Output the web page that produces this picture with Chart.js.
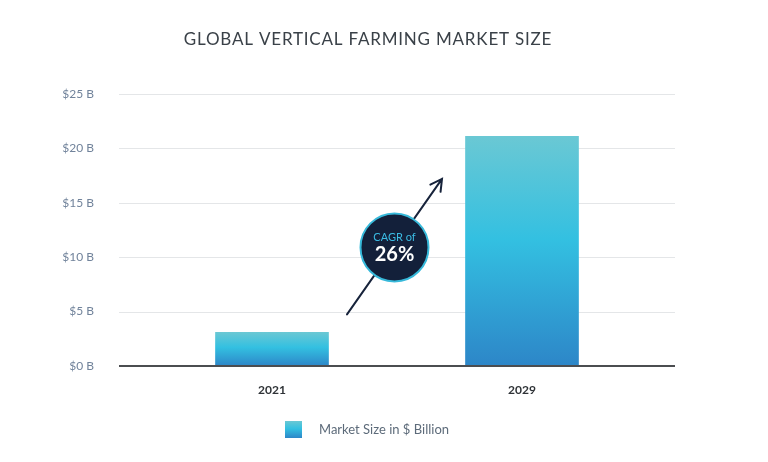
<!DOCTYPE html>
<html>
<head>
<meta charset="utf-8">
<script src="https://cdn.jsdelivr.net/npm/chart.js@4"></script>
<style>
html, body { margin: 0; padding: 0; background: #fff; }
#wrap { width: 768px; height: 462px; }
</style>
</head>
<body>
<div id="wrap"><canvas id="chart"></canvas></div>
<script>
const chartTitle = 'GLOBAL VERTICAL FARMING MARKET SIZE';
const years = ['2021', '2029'];
const marketSize = [3.1, 21.1];
const yTicks = [0, 5, 10, 15, 20, 25];
const seriesName = 'Market Size in $ Billion';
const cagrLabel = 'CAGR of';
const cagrValue = '26%';

function barGradient(ctx, top, bottom) {
    const g = ctx.createLinearGradient(0, top, 0, bottom);
    g.addColorStop(0, '#6ac8d4');
    g.addColorStop(0.45, '#33c0e1');
    g.addColorStop(1, '#2d86c8');
    return g;
}

// spaced-out title, centred a bit left of the canvas middle
const spacedTitle = {
    id: 'spacedTitle',
    afterDraw(chart) {
        const { ctx, width } = chart;
        ctx.save();
        ctx.font = '17px Lato';
        ctx.letterSpacing = '0.8px';
        ctx.fillStyle = '#3a4148';
        ctx.textAlign = 'center';
        ctx.textBaseline = 'alphabetic';
        ctx.fillText(chartTitle, width / 2 - 16, 45);
        ctx.restore();
    }
};

// grid lines run wider than the bars' area, so draw them ourselves
const wideGrid = {
    id: 'wideGrid',
    beforeDatasetsDraw(chart) {
        const { ctx, chartArea, scales: { y } } = chart;
        const left = chartArea.left - 28;
        const right = chartArea.right + 28;
        ctx.save();
        ctx.strokeStyle = '#e4e6e8';
        ctx.lineWidth = 1;
        yTicks.forEach(v => {
            if (v === 0) return;
            const py = Math.round(y.getPixelForValue(v)) + 0.5;
            ctx.beginPath();
            ctx.moveTo(left, py);
            ctx.lineTo(right, py);
            ctx.stroke();
        });
        ctx.restore();
    },
    afterDatasetsDraw(chart) {
        const { ctx, chartArea, scales: { y } } = chart;
        const py = Math.round(y.getPixelForValue(0));
        ctx.save();
        ctx.strokeStyle = '#4b4d50';
        ctx.lineWidth = 2;
        ctx.beginPath();
        ctx.moveTo(chartArea.left - 28, py);
        ctx.lineTo(chartArea.right + 28, py);
        ctx.stroke();
        ctx.restore();
    }
};

// CAGR arrow + badge
const cagrBadge = {
    id: 'cagrBadge',
    afterDatasetsDraw(chart) {
        const { ctx, scales: { x, y } } = chart;
        const x0 = x.getPixelForValue(0.3), y0 = y.getPixelForValue(4.75);
        const x1 = x.getPixelForValue(0.68), y1 = y.getPixelForValue(17.2);
        ctx.save();
        ctx.strokeStyle = '#17233b';
        ctx.lineWidth = 2;
        ctx.lineCap = 'round';
        ctx.beginPath();
        ctx.moveTo(x0, y0);
        ctx.lineTo(x1, y1);
        const ang = Math.atan2(y1 - y0, x1 - x0);
        const head = 13;
        ctx.moveTo(x1 - head * Math.cos(ang - 0.5), y1 - head * Math.sin(ang - 0.5));
        ctx.lineTo(x1, y1);
        ctx.lineTo(x1 - head * Math.cos(ang + 0.5), y1 - head * Math.sin(ang + 0.5));
        ctx.stroke();

        const cx = x.getPixelForValue(0.49), cy = y.getPixelForValue(10.9);
        ctx.beginPath();
        ctx.arc(cx, cy, 34, 0, Math.PI * 2);
        ctx.fillStyle = '#13203a';
        ctx.fill();
        ctx.strokeStyle = '#37b9da';
        ctx.lineWidth = 2;
        ctx.stroke();

        ctx.textAlign = 'center';
        ctx.textBaseline = 'middle';
        ctx.fillStyle = '#3bbbe3';
        ctx.font = '11px Lato';
        ctx.fillText(cagrLabel, cx, cy - 10);
        ctx.fillStyle = '#ffffff';
        ctx.font = 'bold 20px Lato';
        ctx.fillText(cagrValue, cx, cy + 7);
        ctx.restore();
    }
};

const bottomLegend = {
    id: 'bottomLegend',
    afterDraw(chart) {
        const { ctx, chartArea } = chart;
        const bx = chartArea.left + 138;
        const by = chartArea.bottom + 55;
        ctx.save();
        ctx.fillStyle = barGradient(ctx, by, by + 17);
        ctx.fillRect(bx, by, 17, 17);
        ctx.fillStyle = '#5d6b7a';
        ctx.font = '13px Lato';
        ctx.textBaseline = 'middle';
        ctx.textAlign = 'left';
        ctx.fillText(seriesName, bx + 34, by + 9);
        ctx.restore();
    }
};

new Chart(document.getElementById('chart'), {
    type: 'bar',
    data: {
        labels: years,
        datasets: [{
            label: seriesName,
            data: marketSize,
            barThickness: 113,
            backgroundColor: (context) => {
                const chart = context.chart;
                if (!chart.chartArea) return '#33c0e1';
                const ys = chart.scales.y;
                const v = context.raw || 0;
                return barGradient(chart.ctx, ys.getPixelForValue(v), ys.getPixelForValue(0));
            }
        }]
    },
    options: {
        responsive: true,
        maintainAspectRatio: false,
        animation: false,
        layout: { padding: { left: 0, right: 121, top: 94, bottom: 64 } },
        scales: {
            x: {
                grid: { display: false, drawTicks: false },
                border: { display: false },
                ticks: {
                    padding: 17,
                    color: '#2f3337',
                    font: { family: 'Lato', size: 12, weight: 'bold' }
                },
                afterFit(scale) { scale.height = 32; }
            },
            y: {
                min: 0,
                max: 25,
                grid: { display: false, drawTicks: false },
                border: { display: false },
                afterBuildTicks(scale) { scale.ticks = yTicks.map(v => ({ value: v })); },
                ticks: {
                    padding: 53,
                    color: '#71839b',
                    font: { family: 'Lato', size: 12 },
                    callback: (v) => '$' + v + ' B'
                },
                afterFit(scale) { scale.width = 147; }
            }
        },
        plugins: {
            legend: { display: false },
            tooltip: { enabled: false },
            title: { display: false }
        }
    },
    plugins: [spacedTitle, wideGrid, cagrBadge, bottomLegend]
});
</script>
</body>
</html>
